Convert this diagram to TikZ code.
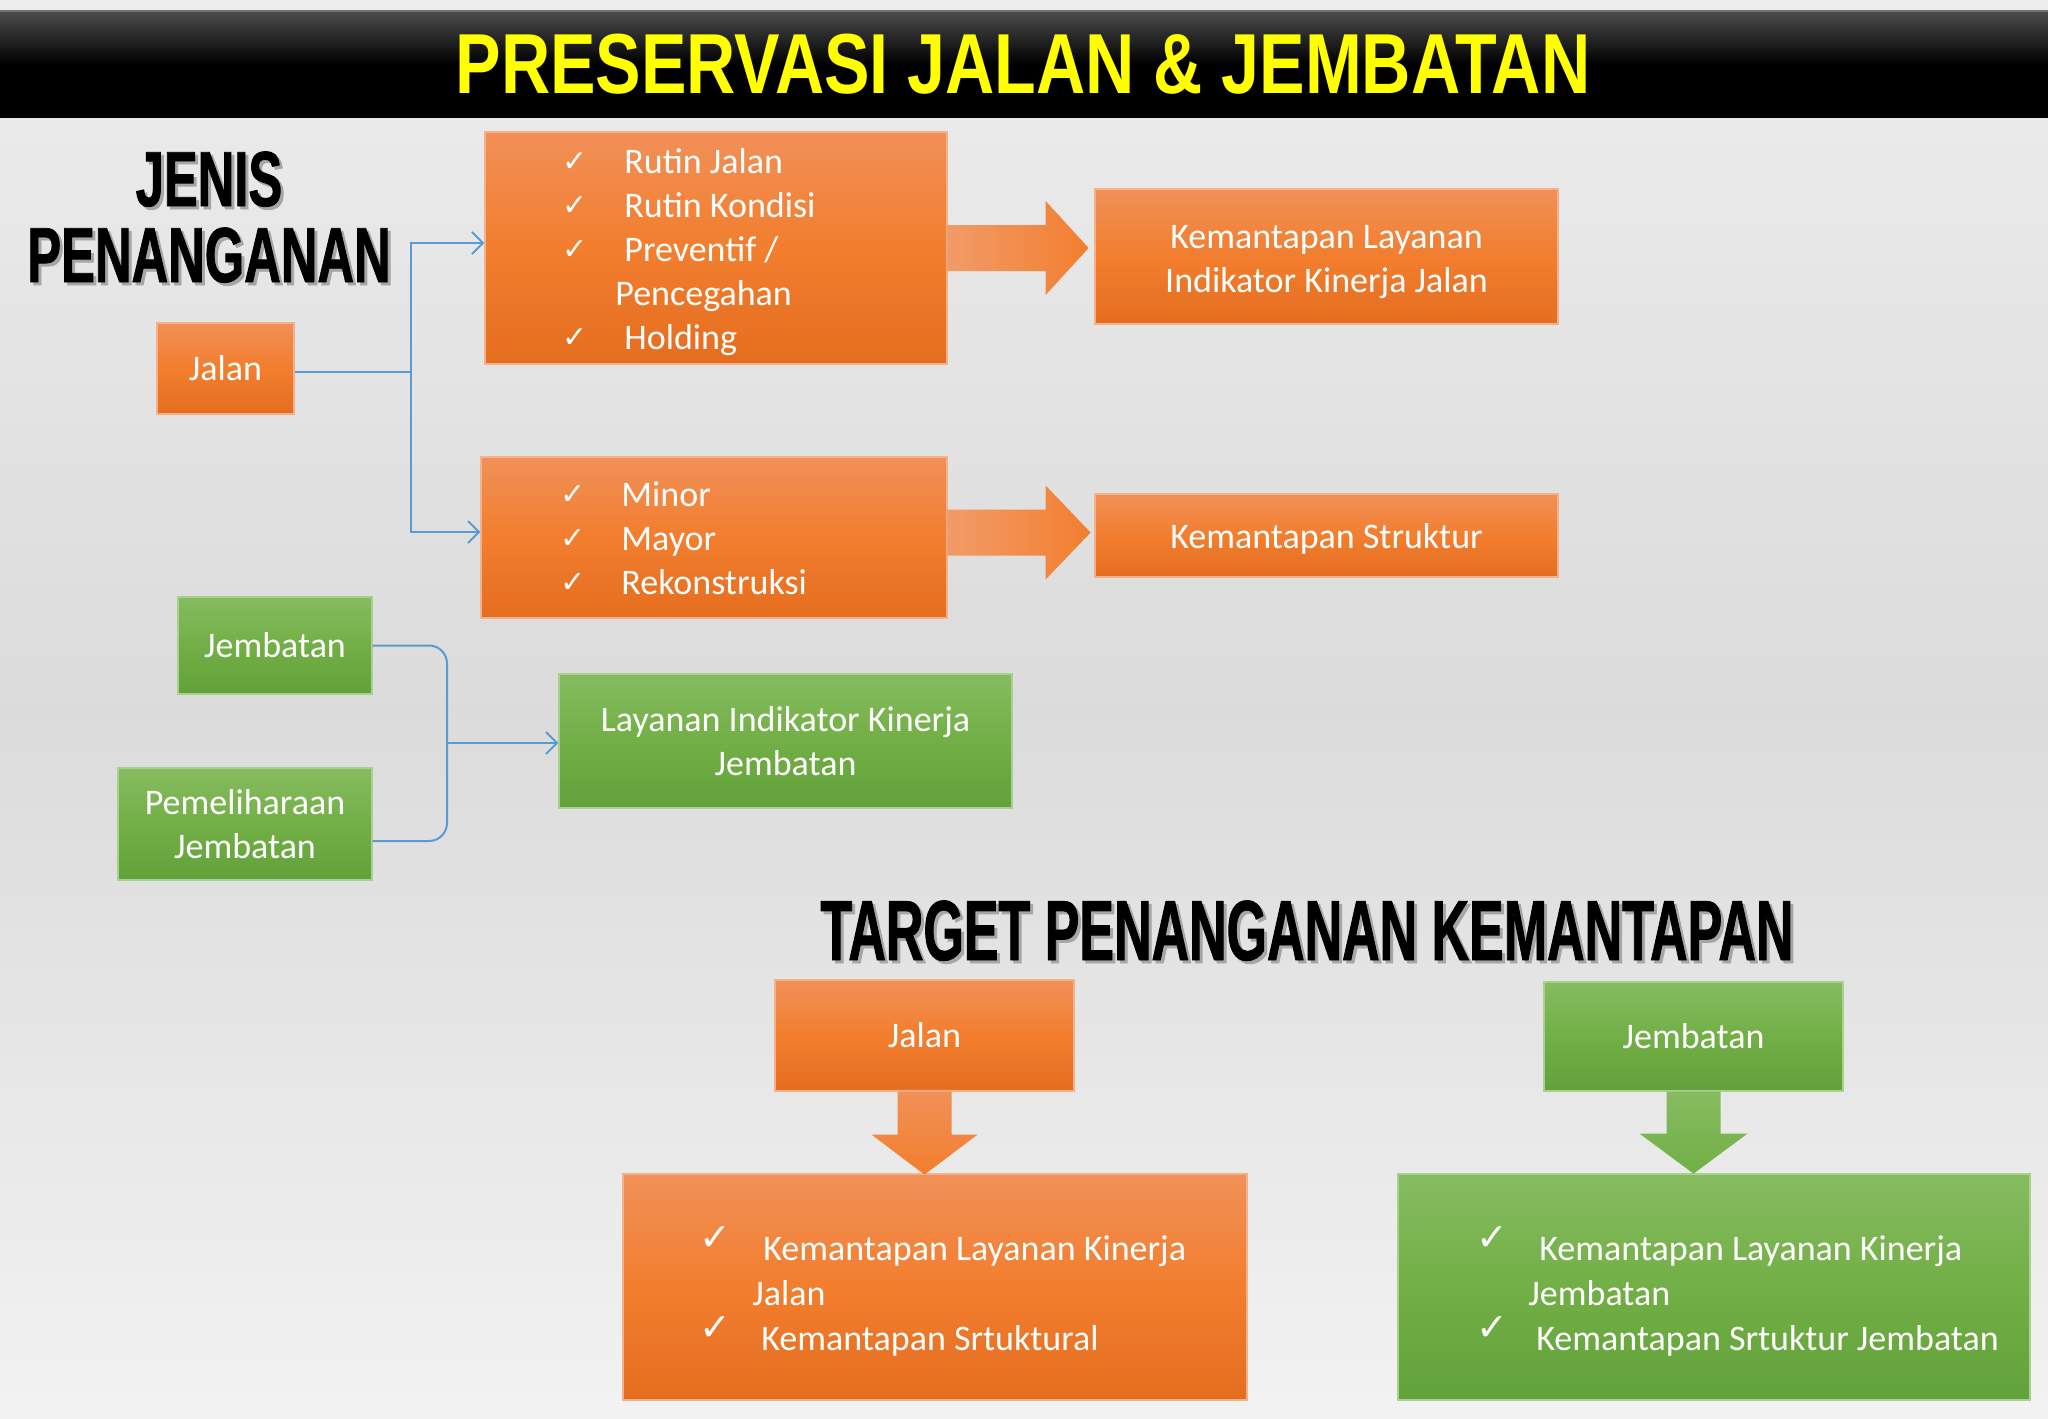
\documentclass[tikz,border=0pt]{standalone}
\usepackage{fontspec}
\setmainfont{Carlito}
\newfontfamily\symfont{DejaVu Sans}
\newfontfamily\titlefont[FakeStretch=0.80]{Liberation Sans}
\newfontfamily\headfont[FakeStretch=0.65,FakeBold=1]{Liberation Sans}
\newfontfamily\targetfont[FakeStretch=0.61,FakeBold=1]{Liberation Sans}
\usetikzlibrary{arrows.meta}
\tikzset{>={Straight Barb[length=5.5pt,width=11pt]}}
\definecolor{orangetop}{HTML}{F19058}
\definecolor{orangemid}{HTML}{F27E2E}
\definecolor{orangebot}{HTML}{E56D1F}
\definecolor{greentop}{HTML}{86BC60}
\definecolor{greenmid}{HTML}{72AF46}
\definecolor{greenbot}{HTML}{62A23A}
\definecolor{linkblue}{HTML}{5B9BD5}
\definecolor{titleyellow}{HTML}{FFFF00}
\newcommand\tick{\raisebox{1pt}{\symfont\fontsize{15}{15}\selectfont ✓}}
\newcommand\bigtick{\raisebox{5pt}{\symfont\fontsize{19}{19}\selectfont ✓}}
\newcommand\firstline{\rule{0pt}{15pt}}

\tikzset{
  box/.style={inner sep=0pt, text=white, align=center,
    font=\fontsize{18}{22}\selectfont},
  orangebox/.style={box, draw=orangetop!70!white, line width=0.6pt,
    top color=orangetop, bottom color=orangebot, middle color=orangemid},
  greenbox/.style={box, draw=greentop!70!white, line width=0.6pt,
    top color=greentop, bottom color=greenbot, middle color=greenmid},
  list/.style={inner sep=0pt, text=white, align=left, anchor=north west,
    font=\fontsize{18}{22}\selectfont},
  link/.style={draw=linkblue, line width=1pt},
  heading/.style={inner sep=0pt, anchor=base},
  rightblock/.style={left color=orangetop!90!white, right color=orangemid},
  downorange/.style={top color=orangetop, bottom color=orangemid},
  downgreen/.style={top color=greentop, bottom color=greenmid},
}

\begin{document}
\begin{tikzpicture}[x=0.5pt,y=-0.5pt]

\useasboundingbox (0,0) rectangle (2048,1418);
\shade[top color=black!7, bottom color=black!5, middle color=black!14]
  (0,0) rectangle (2048,1418); %% background

% title bar
\shade[top color=black!70, bottom color=black, middle color=black]
  (0,11) rectangle (2048,117);
\draw[black!55, line width=0.6pt] (0,11) -- (2048,11);
\node[heading, text=titleyellow,
  font=\titlefont\bfseries\fontsize{42.6}{44}\selectfont]
  (title) at (1023,94) {PRESERVASI JALAN \& JEMBATAN};

% headings with shadow
\node[heading, text=black!35, font=\headfont\bfseries\fontsize{39}{40}\selectfont]
  (jenisS) at (212,209) {JENIS};
\node[heading, font=\headfont\bfseries\fontsize{39}{40}\selectfont]
  (jenis) at (209,206) {JENIS};
\node[heading, text=black!35, font=\headfont\bfseries\fontsize{39}{40}\selectfont]
  (penangananS) at (212,285) {PENANGANAN};
\node[heading, font=\headfont\bfseries\fontsize{39}{40}\selectfont]
  (penanganan) at (209,282) {PENANGANAN};
\node[heading, text=black!35, font=\targetfont\bfseries\fontsize{42.6}{44}\selectfont]
  (targetS) at (1310,963) {TARGET PENANGANAN KEMANTAPAN};
\node[heading, font=\targetfont\bfseries\fontsize{42.6}{44}\selectfont]
  (target) at (1307,960) {TARGET PENANGANAN KEMANTAPAN};

% jenis penanganan jalan
\node[orangebox, minimum width=68.5pt, minimum height=45.5pt]
  (jalan) at (225.5,368.5) {Jalan};
\node[orangebox, minimum width=231pt, minimum height=116pt]
  (rutinbox) at (716,248) {};
\node[orangebox, minimum width=233pt, minimum height=80.5pt]
  (rehabbox) at (714,537.5) {};
\node[orangebox, minimum width=231.5pt, minimum height=67.5pt]
  (kliJalan) at (1326.5,256.5)
  {\rule{0pt}{17pt}Kemantapan Layanan\\Indikator Kinerja Jalan};
\node[orangebox, minimum width=231.5pt, minimum height=41.5pt]
  (struktur) at (1326.5,535.5) {\rule{0pt}{16pt}Kemantapan Struktur};

\node[list] (rutinlist) at (562,143)
  {\firstline\makebox[31pt][l]{\tick}Rutin Jalan\\
   \makebox[31pt][l]{\tick}Rutin Kondisi\\
   \makebox[31pt][l]{\tick}Preventif /\\
   \hspace*{26.5pt}Pencegahan\\
   \makebox[31pt][l]{\tick}Holding};
\node[list] (rehablist) at (560,476)
  {\firstline\makebox[30.5pt][l]{\tick}Minor\\
   \makebox[30.5pt][l]{\tick}Mayor\\
   \makebox[30.5pt][l]{\tick}Rekonstruksi};

\coordinate (fork) at (411,372);
\draw[link] ([yshift=-1.75pt]jalan.east) -- (fork);
\draw[link,->] (fork) |- ([yshift=2.5pt]rutinbox.west);
\draw[link,->] (fork) |- ([yshift=2.75pt]rehabbox.west);

\shade[rightblock] (rutinbox.east) ++(0,-23) -- ++(98,0) -- ++(0,-24)
  -- ++(43,47) -- ++(-43,47) -- ++(0,-24) -- ++(-98,0) -- cycle;
\shade[rightblock] (rehabbox.east) ++(0,-28) -- ++(98,0) -- ++(0,-24)
  -- ++(45,47) -- ++(-45,47) -- ++(0,-24) -- ++(-98,0) -- cycle;

% jenis penanganan jembatan
\node[greenbox, minimum width=97pt, minimum height=48.5pt]
  (jembatan) at (275,645.5) {Jembatan};
\node[greenbox, minimum width=127pt, minimum height=56pt]
  (pemeliharaan) at (245,824) {Pemeliharaan\\Jembatan};
\node[greenbox, minimum width=226.5pt, minimum height=67pt]
  (likJembatan) at (785.5,741) {Layanan Indikator Kinerja\\Jembatan};

\coordinate (brace) at (447,743);
\draw[link, rounded corners=9pt] (jembatan.east) -| (brace)
  |- ([yshift=-8.5pt]pemeliharaan.east);
\draw[link,->] (brace) -- (brace -| likJembatan.west);

% target penanganan
\node[orangebox, minimum width=149.5pt, minimum height=55.5pt]
  (tJalan) at (924.5,1035.5) {Jalan};
\node[greenbox, minimum width=149.5pt, minimum height=54.5pt]
  (tJembatan) at (1693.5,1036.5) {Jembatan};
\node[orangebox, minimum width=312pt, minimum height=113pt]
  (tJalanBox) at (935,1287) {};
\node[greenbox, minimum width=316pt, minimum height=113pt]
  (tJembatanBox) at (1714,1287) {};

\shade[downorange] (tJalan.south) ++(-27,0) -- ++(0,43) -- ++(-26,0)
  -- ++(53,40) -- ++(53,-40) -- ++(-26,0) -- ++(0,-43) -- cycle;
\shade[downgreen] (tJembatan.south) ++(-27,0) -- ++(0,42) -- ++(-27,0)
  -- ++(54,40) -- ++(54,-40) -- ++(-27,0) -- ++(0,-42) -- cycle;

\node[list, font=\fontsize{18}{22.5}\selectfont] (tJalanList) at (699,1226)
  {\firstline\makebox[32pt][l]{\bigtick}Kemantapan Layanan Kinerja\\
   \hspace*{26.5pt}Jalan\\
   \makebox[31pt][l]{\bigtick}Kemantapan Srtuktural};
\node[list, font=\fontsize{18}{22.5}\selectfont] (tJembatanList) at (1476,1226)
  {\firstline\makebox[31.5pt][l]{\bigtick}Kemantapan Layanan Kinerja\\
   \hspace*{26pt}Jembatan\\
   \makebox[30pt][l]{\bigtick}Kemantapan Srtuktur Jembatan};

\end{tikzpicture}
\end{document}
